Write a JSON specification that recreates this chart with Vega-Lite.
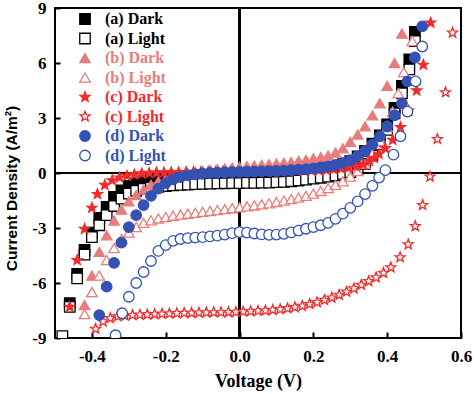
{
"$schema": "https://vega.github.io/schema/vega-lite/v6.json",
"width": 406, "height": 330,
"autosize": {"type": "none"},
"padding": {"left": 55, "top": 8, "right": 13, "bottom": 56},
"background": "white",
"config": {"view": {"stroke": "black", "strokeWidth": 2}, "locale": {"number": {"decimal": ".", "thousands": ",", "grouping": [3], "currency": ["$", ""], "minus": "-"}},
  "axis": {"labelFont": "Liberation Serif", "labelFontWeight": "bold", "labelFontSize": 17, "labelColor": "black", "tickColor": "black", "tickWidth": 2, "domain": false, "grid": false}},
"datasets": {"iv": [
{"series":"(a) Dark","V":-0.46,"J":-7.1},{"series":"(a) Dark","V":-0.44,"J":-5.5},{"series":"(a) Dark","V":-0.42,"J":-4.2},{"series":"(a) Dark","V":-0.40,"J":-3.25},{"series":"(a) Dark","V":-0.38,"J":-2.45},{"series":"(a) Dark","V":-0.36,"J":-1.85},{"series":"(a) Dark","V":-0.34,"J":-1.3},{"series":"(a) Dark","V":-0.32,"J":-0.95},{"series":"(a) Dark","V":-0.30,"J":-0.7},{"series":"(a) Dark","V":-0.28,"J":-0.55},{"series":"(a) Dark","V":-0.26,"J":-0.45},{"series":"(a) Dark","V":-0.24,"J":-0.38},{"series":"(a) Dark","V":-0.22,"J":-0.32},{"series":"(a) Dark","V":-0.20,"J":-0.27},{"series":"(a) Dark","V":-0.18,"J":-0.23},{"series":"(a) Dark","V":-0.16,"J":-0.2},{"series":"(a) Dark","V":-0.14,"J":-0.17},{"series":"(a) Dark","V":-0.12,"J":-0.14},{"series":"(a) Dark","V":-0.10,"J":-0.12},{"series":"(a) Dark","V":-0.08,"J":-0.1},{"series":"(a) Dark","V":-0.06,"J":-0.08},{"series":"(a) Dark","V":-0.04,"J":-0.06},{"series":"(a) Dark","V":-0.02,"J":-0.05},{"series":"(a) Dark","V":0,"J":-0.04},{"series":"(a) Dark","V":0.02,"J":-0.02},{"series":"(a) Dark","V":0.04,"J":0},{"series":"(a) Dark","V":0.06,"J":0.01},{"series":"(a) Dark","V":0.08,"J":0.02},{"series":"(a) Dark","V":0.10,"J":0.03},{"series":"(a) Dark","V":0.12,"J":0.05},{"series":"(a) Dark","V":0.14,"J":0.07},{"series":"(a) Dark","V":0.16,"J":0.09},{"series":"(a) Dark","V":0.18,"J":0.12},{"series":"(a) Dark","V":0.20,"J":0.15},{"series":"(a) Dark","V":0.22,"J":0.2},{"series":"(a) Dark","V":0.24,"J":0.26},{"series":"(a) Dark","V":0.26,"J":0.35},{"series":"(a) Dark","V":0.28,"J":0.48},{"series":"(a) Dark","V":0.30,"J":0.65},{"series":"(a) Dark","V":0.32,"J":0.9},{"series":"(a) Dark","V":0.34,"J":1.2},{"series":"(a) Dark","V":0.36,"J":1.6},{"series":"(a) Dark","V":0.38,"J":2.05},{"series":"(a) Dark","V":0.40,"J":2.65},{"series":"(a) Dark","V":0.42,"J":3.55},{"series":"(a) Dark","V":0.44,"J":4.75},{"series":"(a) Dark","V":0.46,"J":6.2},{"series":"(a) Dark","V":0.475,"J":7.7},
{"series":"(a) Light","V":-0.48,"J":-8.9},{"series":"(a) Light","V":-0.46,"J":-7.3},{"series":"(a) Light","V":-0.44,"J":-5.75},{"series":"(a) Light","V":-0.42,"J":-4.45},{"series":"(a) Light","V":-0.40,"J":-3.5},{"series":"(a) Light","V":-0.38,"J":-2.85},{"series":"(a) Light","V":-0.36,"J":-2.3},{"series":"(a) Light","V":-0.34,"J":-1.8},{"series":"(a) Light","V":-0.32,"J":-1.4},{"series":"(a) Light","V":-0.30,"J":-1.12},{"series":"(a) Light","V":-0.28,"J":-0.97},{"series":"(a) Light","V":-0.26,"J":-0.87},{"series":"(a) Light","V":-0.24,"J":-0.8},{"series":"(a) Light","V":-0.22,"J":-0.75},{"series":"(a) Light","V":-0.20,"J":-0.71},{"series":"(a) Light","V":-0.18,"J":-0.68},{"series":"(a) Light","V":-0.16,"J":-0.65},{"series":"(a) Light","V":-0.14,"J":-0.63},{"series":"(a) Light","V":-0.12,"J":-0.61},{"series":"(a) Light","V":-0.10,"J":-0.59},{"series":"(a) Light","V":-0.08,"J":-0.58},{"series":"(a) Light","V":-0.06,"J":-0.57},{"series":"(a) Light","V":-0.04,"J":-0.56},{"series":"(a) Light","V":-0.02,"J":-0.55},{"series":"(a) Light","V":0,"J":-0.55},{"series":"(a) Light","V":0.02,"J":-0.54},{"series":"(a) Light","V":0.04,"J":-0.54},{"series":"(a) Light","V":0.06,"J":-0.53},{"series":"(a) Light","V":0.08,"J":-0.52},{"series":"(a) Light","V":0.10,"J":-0.5},{"series":"(a) Light","V":0.12,"J":-0.48},{"series":"(a) Light","V":0.14,"J":-0.45},{"series":"(a) Light","V":0.16,"J":-0.41},{"series":"(a) Light","V":0.18,"J":-0.36},{"series":"(a) Light","V":0.20,"J":-0.31},{"series":"(a) Light","V":0.22,"J":-0.26},{"series":"(a) Light","V":0.24,"J":-0.2},{"series":"(a) Light","V":0.26,"J":-0.13},{"series":"(a) Light","V":0.28,"J":-0.05},{"series":"(a) Light","V":0.30,"J":0.05},{"series":"(a) Light","V":0.32,"J":0.22},{"series":"(a) Light","V":0.34,"J":0.5},{"series":"(a) Light","V":0.36,"J":0.95},{"series":"(a) Light","V":0.38,"J":1.55},{"series":"(a) Light","V":0.40,"J":2.35},{"series":"(a) Light","V":0.42,"J":3.25},{"series":"(a) Light","V":0.44,"J":4.35},{"series":"(a) Light","V":0.46,"J":5.65},{"series":"(a) Light","V":0.475,"J":7.2},
{"series":"(b) Dark","V":-0.42,"J":-7.2},{"series":"(b) Dark","V":-0.40,"J":-5.6},{"series":"(b) Dark","V":-0.38,"J":-4.3},{"series":"(b) Dark","V":-0.36,"J":-3.4},{"series":"(b) Dark","V":-0.34,"J":-2.6},{"series":"(b) Dark","V":-0.32,"J":-2.0},{"series":"(b) Dark","V":-0.30,"J":-1.55},{"series":"(b) Dark","V":-0.28,"J":-1.2},{"series":"(b) Dark","V":-0.26,"J":-0.9},{"series":"(b) Dark","V":-0.24,"J":-0.65},{"series":"(b) Dark","V":-0.22,"J":-0.45},{"series":"(b) Dark","V":-0.20,"J":-0.3},{"series":"(b) Dark","V":-0.18,"J":-0.18},{"series":"(b) Dark","V":-0.16,"J":-0.08},{"series":"(b) Dark","V":-0.14,"J":0.0},{"series":"(b) Dark","V":-0.12,"J":0.06},{"series":"(b) Dark","V":-0.10,"J":0.12},{"series":"(b) Dark","V":-0.08,"J":0.17},{"series":"(b) Dark","V":-0.06,"J":0.21},{"series":"(b) Dark","V":-0.04,"J":0.25},{"series":"(b) Dark","V":-0.02,"J":0.29},{"series":"(b) Dark","V":0,"J":0.33},{"series":"(b) Dark","V":0.02,"J":0.37},{"series":"(b) Dark","V":0.04,"J":0.4},{"series":"(b) Dark","V":0.06,"J":0.44},{"series":"(b) Dark","V":0.08,"J":0.48},{"series":"(b) Dark","V":0.10,"J":0.52},{"series":"(b) Dark","V":0.12,"J":0.56},{"series":"(b) Dark","V":0.14,"J":0.6},{"series":"(b) Dark","V":0.16,"J":0.66},{"series":"(b) Dark","V":0.18,"J":0.72},{"series":"(b) Dark","V":0.20,"J":0.8},{"series":"(b) Dark","V":0.22,"J":0.87},{"series":"(b) Dark","V":0.24,"J":0.95},{"series":"(b) Dark","V":0.26,"J":1.12},{"series":"(b) Dark","V":0.28,"J":1.35},{"series":"(b) Dark","V":0.30,"J":1.7},{"series":"(b) Dark","V":0.32,"J":2.1},{"series":"(b) Dark","V":0.34,"J":2.55},{"series":"(b) Dark","V":0.36,"J":3.15},{"series":"(b) Dark","V":0.38,"J":3.8},{"series":"(b) Dark","V":0.40,"J":4.75},{"series":"(b) Dark","V":0.42,"J":6.0},{"series":"(b) Dark","V":0.44,"J":7.6},
{"series":"(b) Light","V":-0.42,"J":-7.7},{"series":"(b) Light","V":-0.40,"J":-6.5},{"series":"(b) Light","V":-0.38,"J":-5.6},{"series":"(b) Light","V":-0.36,"J":-4.75},{"series":"(b) Light","V":-0.34,"J":-4.1},{"series":"(b) Light","V":-0.32,"J":-3.6},{"series":"(b) Light","V":-0.30,"J":-3.25},{"series":"(b) Light","V":-0.28,"J":-2.95},{"series":"(b) Light","V":-0.26,"J":-2.72},{"series":"(b) Light","V":-0.24,"J":-2.58},{"series":"(b) Light","V":-0.22,"J":-2.48},{"series":"(b) Light","V":-0.20,"J":-2.4},{"series":"(b) Light","V":-0.18,"J":-2.33},{"series":"(b) Light","V":-0.16,"J":-2.27},{"series":"(b) Light","V":-0.14,"J":-2.22},{"series":"(b) Light","V":-0.12,"J":-2.17},{"series":"(b) Light","V":-0.10,"J":-2.12},{"series":"(b) Light","V":-0.08,"J":-2.07},{"series":"(b) Light","V":-0.06,"J":-2.02},{"series":"(b) Light","V":-0.04,"J":-1.97},{"series":"(b) Light","V":-0.02,"J":-1.92},{"series":"(b) Light","V":0,"J":-1.87},{"series":"(b) Light","V":0.02,"J":-1.82},{"series":"(b) Light","V":0.04,"J":-1.77},{"series":"(b) Light","V":0.06,"J":-1.71},{"series":"(b) Light","V":0.08,"J":-1.65},{"series":"(b) Light","V":0.10,"J":-1.58},{"series":"(b) Light","V":0.12,"J":-1.5},{"series":"(b) Light","V":0.14,"J":-1.42},{"series":"(b) Light","V":0.16,"J":-1.34},{"series":"(b) Light","V":0.18,"J":-1.25},{"series":"(b) Light","V":0.20,"J":-1.12},{"series":"(b) Light","V":0.22,"J":-0.98},{"series":"(b) Light","V":0.24,"J":-0.82},{"series":"(b) Light","V":0.26,"J":-0.65},{"series":"(b) Light","V":0.28,"J":-0.45},{"series":"(b) Light","V":0.30,"J":-0.2},{"series":"(b) Light","V":0.32,"J":0.1},{"series":"(b) Light","V":0.34,"J":0.5},{"series":"(b) Light","V":0.36,"J":1.05},{"series":"(b) Light","V":0.38,"J":1.75},{"series":"(b) Light","V":0.40,"J":2.5},{"series":"(b) Light","V":0.415,"J":3.35},{"series":"(b) Light","V":0.43,"J":4.35},{"series":"(b) Light","V":0.445,"J":5.5},{"series":"(b) Light","V":0.468,"J":7.2},
{"series":"(c) Dark","V":-0.46,"J":-7.3},{"series":"(c) Dark","V":-0.44,"J":-4.75},{"series":"(c) Dark","V":-0.42,"J":-3.05},{"series":"(c) Dark","V":-0.40,"J":-1.9},{"series":"(c) Dark","V":-0.385,"J":-1.15},{"series":"(c) Dark","V":-0.365,"J":-0.65},{"series":"(c) Dark","V":-0.345,"J":-0.4},{"series":"(c) Dark","V":-0.325,"J":-0.25},{"series":"(c) Dark","V":-0.305,"J":-0.15},{"series":"(c) Dark","V":-0.285,"J":-0.08},{"series":"(c) Dark","V":-0.265,"J":-0.03},{"series":"(c) Dark","V":-0.245,"J":0.0},{"series":"(c) Dark","V":-0.225,"J":0.02},{"series":"(c) Dark","V":-0.205,"J":0.03},{"series":"(c) Dark","V":-0.185,"J":0.04},{"series":"(c) Dark","V":-0.165,"J":0.04},{"series":"(c) Dark","V":-0.145,"J":0.05},{"series":"(c) Dark","V":-0.125,"J":0.05},{"series":"(c) Dark","V":-0.105,"J":0.05},{"series":"(c) Dark","V":-0.085,"J":0.05},{"series":"(c) Dark","V":-0.065,"J":0.05},{"series":"(c) Dark","V":-0.045,"J":0.06},{"series":"(c) Dark","V":-0.025,"J":0.06},{"series":"(c) Dark","V":-0.005,"J":0.06},{"series":"(c) Dark","V":0.015,"J":0.06},{"series":"(c) Dark","V":0.035,"J":0.07},{"series":"(c) Dark","V":0.055,"J":0.07},{"series":"(c) Dark","V":0.075,"J":0.08},{"series":"(c) Dark","V":0.095,"J":0.08},{"series":"(c) Dark","V":0.115,"J":0.09},{"series":"(c) Dark","V":0.135,"J":0.1},{"series":"(c) Dark","V":0.155,"J":0.11},{"series":"(c) Dark","V":0.175,"J":0.12},{"series":"(c) Dark","V":0.195,"J":0.13},{"series":"(c) Dark","V":0.215,"J":0.15},{"series":"(c) Dark","V":0.235,"J":0.17},{"series":"(c) Dark","V":0.255,"J":0.2},{"series":"(c) Dark","V":0.275,"J":0.24},{"series":"(c) Dark","V":0.295,"J":0.29},{"series":"(c) Dark","V":0.315,"J":0.36},{"series":"(c) Dark","V":0.335,"J":0.48},{"series":"(c) Dark","V":0.352,"J":0.65},{"series":"(c) Dark","V":0.365,"J":0.82},{"series":"(c) Dark","V":0.378,"J":1.04},{"series":"(c) Dark","V":0.395,"J":1.35},{"series":"(c) Dark","V":0.415,"J":1.8},{"series":"(c) Dark","V":0.436,"J":2.5},{"series":"(c) Dark","V":0.458,"J":3.4},{"series":"(c) Dark","V":0.48,"J":4.5},{"series":"(c) Dark","V":0.498,"J":5.9},{"series":"(c) Dark","V":0.518,"J":8.2},
{"series":"(c) Light","V":-0.39,"J":-8.5},{"series":"(c) Light","V":-0.37,"J":-8.1},{"series":"(c) Light","V":-0.35,"J":-7.92},{"series":"(c) Light","V":-0.33,"J":-7.82},{"series":"(c) Light","V":-0.31,"J":-7.78},{"series":"(c) Light","V":-0.29,"J":-7.75},{"series":"(c) Light","V":-0.27,"J":-7.73},{"series":"(c) Light","V":-0.25,"J":-7.72},{"series":"(c) Light","V":-0.23,"J":-7.7},{"series":"(c) Light","V":-0.21,"J":-7.68},{"series":"(c) Light","V":-0.19,"J":-7.67},{"series":"(c) Light","V":-0.17,"J":-7.65},{"series":"(c) Light","V":-0.15,"J":-7.64},{"series":"(c) Light","V":-0.13,"J":-7.63},{"series":"(c) Light","V":-0.11,"J":-7.62},{"series":"(c) Light","V":-0.09,"J":-7.61},{"series":"(c) Light","V":-0.07,"J":-7.6},{"series":"(c) Light","V":-0.05,"J":-7.6},{"series":"(c) Light","V":-0.03,"J":-7.59},{"series":"(c) Light","V":-0.01,"J":-7.58},{"series":"(c) Light","V":0.01,"J":-7.56},{"series":"(c) Light","V":0.03,"J":-7.54},{"series":"(c) Light","V":0.05,"J":-7.52},{"series":"(c) Light","V":0.07,"J":-7.5},{"series":"(c) Light","V":0.09,"J":-7.47},{"series":"(c) Light","V":0.11,"J":-7.43},{"series":"(c) Light","V":0.13,"J":-7.38},{"series":"(c) Light","V":0.15,"J":-7.32},{"series":"(c) Light","V":0.17,"J":-7.25},{"series":"(c) Light","V":0.19,"J":-7.15},{"series":"(c) Light","V":0.21,"J":-7.05},{"series":"(c) Light","V":0.23,"J":-6.93},{"series":"(c) Light","V":0.25,"J":-6.8},{"series":"(c) Light","V":0.27,"J":-6.65},{"series":"(c) Light","V":0.29,"J":-6.48},{"series":"(c) Light","V":0.31,"J":-6.3},{"series":"(c) Light","V":0.33,"J":-6.1},{"series":"(c) Light","V":0.35,"J":-5.9},{"series":"(c) Light","V":0.37,"J":-5.7},{"series":"(c) Light","V":0.39,"J":-5.45},{"series":"(c) Light","V":0.41,"J":-5.15},{"series":"(c) Light","V":0.435,"J":-4.6},{"series":"(c) Light","V":0.457,"J":-3.9},{"series":"(c) Light","V":0.476,"J":-2.9},{"series":"(c) Light","V":0.496,"J":-1.75},{"series":"(c) Light","V":0.516,"J":-0.2},{"series":"(c) Light","V":0.536,"J":1.85},{"series":"(c) Light","V":0.558,"J":4.4},{"series":"(c) Light","V":0.577,"J":7.65},
{"series":"(d) Dark","V":-0.38,"J":-7.75},{"series":"(d) Dark","V":-0.36,"J":-6.2},{"series":"(d) Dark","V":-0.34,"J":-4.9},{"series":"(d) Dark","V":-0.32,"J":-3.8},{"series":"(d) Dark","V":-0.30,"J":-2.95},{"series":"(d) Dark","V":-0.28,"J":-2.3},{"series":"(d) Dark","V":-0.26,"J":-1.75},{"series":"(d) Dark","V":-0.24,"J":-1.25},{"series":"(d) Dark","V":-0.22,"J":-0.85},{"series":"(d) Dark","V":-0.20,"J":-0.55},{"series":"(d) Dark","V":-0.18,"J":-0.35},{"series":"(d) Dark","V":-0.16,"J":-0.22},{"series":"(d) Dark","V":-0.14,"J":-0.13},{"series":"(d) Dark","V":-0.12,"J":-0.07},{"series":"(d) Dark","V":-0.10,"J":-0.03},{"series":"(d) Dark","V":-0.08,"J":0.0},{"series":"(d) Dark","V":-0.06,"J":0.02},{"series":"(d) Dark","V":-0.04,"J":0.04},{"series":"(d) Dark","V":-0.02,"J":0.05},{"series":"(d) Dark","V":0,"J":0.06},{"series":"(d) Dark","V":0.02,"J":0.07},{"series":"(d) Dark","V":0.04,"J":0.08},{"series":"(d) Dark","V":0.06,"J":0.09},{"series":"(d) Dark","V":0.08,"J":0.1},{"series":"(d) Dark","V":0.10,"J":0.11},{"series":"(d) Dark","V":0.12,"J":0.13},{"series":"(d) Dark","V":0.14,"J":0.15},{"series":"(d) Dark","V":0.16,"J":0.18},{"series":"(d) Dark","V":0.18,"J":0.21},{"series":"(d) Dark","V":0.20,"J":0.25},{"series":"(d) Dark","V":0.22,"J":0.3},{"series":"(d) Dark","V":0.24,"J":0.36},{"series":"(d) Dark","V":0.26,"J":0.44},{"series":"(d) Dark","V":0.28,"J":0.55},{"series":"(d) Dark","V":0.30,"J":0.7},{"series":"(d) Dark","V":0.32,"J":0.92},{"series":"(d) Dark","V":0.34,"J":1.2},{"series":"(d) Dark","V":0.36,"J":1.55},{"series":"(d) Dark","V":0.38,"J":2.0},{"series":"(d) Dark","V":0.40,"J":2.55},{"series":"(d) Dark","V":0.42,"J":3.15},{"series":"(d) Dark","V":0.44,"J":3.8},{"series":"(d) Dark","V":0.455,"J":5.0},{"series":"(d) Dark","V":0.475,"J":6.3},{"series":"(d) Dark","V":0.495,"J":8.0},
{"series":"(d) Light","V":-0.336,"J":-8.85},{"series":"(d) Light","V":-0.318,"J":-7.65},{"series":"(d) Light","V":-0.30,"J":-6.75},{"series":"(d) Light","V":-0.28,"J":-6.0},{"series":"(d) Light","V":-0.26,"J":-5.4},{"series":"(d) Light","V":-0.24,"J":-4.8},{"series":"(d) Light","V":-0.22,"J":-4.25},{"series":"(d) Light","V":-0.20,"J":-3.93},{"series":"(d) Light","V":-0.18,"J":-3.7},{"series":"(d) Light","V":-0.16,"J":-3.6},{"series":"(d) Light","V":-0.14,"J":-3.55},{"series":"(d) Light","V":-0.12,"J":-3.52},{"series":"(d) Light","V":-0.10,"J":-3.5},{"series":"(d) Light","V":-0.08,"J":-3.46},{"series":"(d) Light","V":-0.06,"J":-3.42},{"series":"(d) Light","V":-0.04,"J":-3.36},{"series":"(d) Light","V":-0.02,"J":-3.28},{"series":"(d) Light","V":0,"J":-3.22},{"series":"(d) Light","V":0.02,"J":-3.25},{"series":"(d) Light","V":0.04,"J":-3.3},{"series":"(d) Light","V":0.06,"J":-3.35},{"series":"(d) Light","V":0.08,"J":-3.37},{"series":"(d) Light","V":0.10,"J":-3.36},{"series":"(d) Light","V":0.12,"J":-3.32},{"series":"(d) Light","V":0.14,"J":-3.24},{"series":"(d) Light","V":0.16,"J":-3.14},{"series":"(d) Light","V":0.18,"J":-3.04},{"series":"(d) Light","V":0.20,"J":-2.95},{"series":"(d) Light","V":0.22,"J":-2.85},{"series":"(d) Light","V":0.24,"J":-2.72},{"series":"(d) Light","V":0.26,"J":-2.5},{"series":"(d) Light","V":0.28,"J":-2.22},{"series":"(d) Light","V":0.30,"J":-1.9},{"series":"(d) Light","V":0.32,"J":-1.55},{"series":"(d) Light","V":0.34,"J":-1.15},{"series":"(d) Light","V":0.36,"J":-0.7},{"series":"(d) Light","V":0.378,"J":-0.25},{"series":"(d) Light","V":0.395,"J":0.16},{"series":"(d) Light","V":0.417,"J":1.0},{"series":"(d) Light","V":0.436,"J":2.0},{"series":"(d) Light","V":0.455,"J":3.35},{"series":"(d) Light","V":0.477,"J":5.0},{"series":"(d) Light","V":0.495,"J":6.9}
]},
"data": {"name": "iv"},
"layer": [
{"mark": {"type": "rule", "color": "black", "strokeWidth": 2}, "encoding": {"x": {"datum": 0, "type": "quantitative"}}},
{"mark": {"type": "rule", "color": "black", "strokeWidth": 2}, "encoding": {"y": {"datum": 0, "type": "quantitative"}}},
{"mark": {"type": "point", "size": 110, "opacity": 1, "strokeWidth": 1.3, "clip": true},
 "encoding": {
  "x": {"field": "V", "type": "quantitative", "scale": {"domain": [-0.5, 0.6], "nice": false, "zero": false},
    "axis": {"title": "Voltage (V)", "values": [-0.4,-0.2,0,0.2,0.4,0.6], "format": ".1f",
      "domain": false, "grid": false, "tickSize": -6, "tickColor": "black", "tickWidth": 2, "labelPadding": 16,
      "labelFont": "Liberation Serif", "labelFontWeight": "bold", "labelFontSize": 17, "labelColor": "black", "labelFlush": false, "labelOverlap": false,
      "titleFont": "Liberation Serif", "titleFontWeight": "bold", "titleFontSize": 18, "titleColor": "black", "titlePadding": 8}},
  "y": {"field": "J", "type": "quantitative", "scale": {"domain": [-9, 9], "nice": false},
    "axis": {"title": "Current Density (A/m\u00b2)", "values": [-9,-7.5,-6,-4.5,-3,-1.5,0,1.5,3,4.5,6,7.5,9],
      "labelExpr": "(datum.value % 3 == 0) ? replace(format(datum.value, 'd'), '\u2212', '-') : ''",
      "domain": false, "grid": false, "tickSize": -5, "tickColor": "black", "tickWidth": 2, "labelPadding": 14,
      "labelFont": "Liberation Serif", "labelFontWeight": "bold", "labelFontSize": 17, "labelColor": "black", "labelFlush": false, "labelOverlap": false,
      "titleFont": "Liberation Sans", "titleFontWeight": "bold", "titleFontSize": 15.5, "titleColor": "black", "titlePadding": 12, "titleY": 180}},
  "shape": {"field": "series", "type": "nominal",
    "scale": {"domain": ["(a) Dark","(a) Light","(b) Dark","(b) Light","(c) Dark","(c) Light","(d) Dark","(d) Light"], "range": ["square","square","triangle-up","triangle-up","M0,-1L0.25,-0.34L0.951,-0.309L0.4,0.13L0.588,0.809L0,0.42L-0.588,0.809L-0.4,0.13L-0.951,-0.309L-0.25,-0.34Z","M0,-1L0.25,-0.34L0.951,-0.309L0.4,0.13L0.588,0.809L0,0.42L-0.588,0.809L-0.4,0.13L-0.951,-0.309L-0.25,-0.34Z","circle","circle"]},
    "legend": {"title": null, "orient": "none", "legendX": 22, "legendY": 3, "padding": 0, "rowPadding": 3.5, "labelFont": "Liberation Serif", "labelFontWeight": "bold", "labelFontSize": 16, "labelOffset": 12, "symbolSize": 110, "symbolStrokeWidth": 1.3, "labelLimit": 200, "labelColor": {"expr": "scale('stroke', datum.value)"}}},
  "stroke": {"field": "series", "type": "nominal",
    "scale": {"domain": ["(a) Dark","(a) Light","(b) Dark","(b) Light","(c) Dark","(c) Light","(d) Dark","(d) Light"], "range": ["#000000","#000000","#E87C7C","#E87C7C","#F22A2A","#F22A2A","#3452B4","#3452B4"]},
    "legend": {"title": null, "orient": "none", "legendX": 22, "legendY": 3, "padding": 0, "rowPadding": 3.5, "labelFont": "Liberation Serif", "labelFontWeight": "bold", "labelFontSize": 16, "labelOffset": 12, "symbolSize": 110, "symbolStrokeWidth": 1.3, "labelLimit": 200, "labelColor": {"expr": "scale('stroke', datum.value)"}}},
  "fill": {"field": "series", "type": "nominal",
    "scale": {"domain": ["(a) Dark","(a) Light","(b) Dark","(b) Light","(c) Dark","(c) Light","(d) Dark","(d) Light"], "range": ["#000000","#ffffff","#E87C7C","#ffffff","#F22A2A","#ffffff","#3452B4","#ffffff"]},
    "legend": {"title": null, "orient": "none", "legendX": 22, "legendY": 3, "padding": 0, "rowPadding": 3.5, "labelFont": "Liberation Serif", "labelFontWeight": "bold", "labelFontSize": 16, "labelOffset": 12, "symbolSize": 110, "symbolStrokeWidth": 1.3, "labelLimit": 200, "labelColor": {"expr": "scale('stroke', datum.value)"}}}
 }}
]
}
